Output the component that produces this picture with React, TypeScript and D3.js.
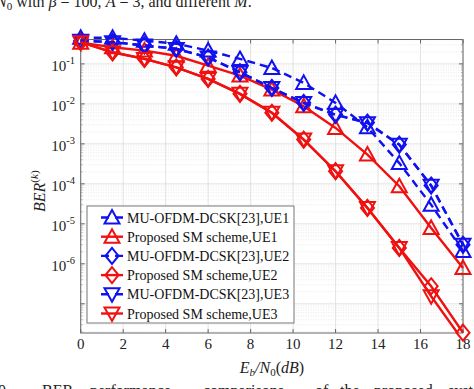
import * as d3 from "d3";

// Eb/N0 (dB)
const snr = [0, 1.5, 3, 4.5, 6, 7.5, 9, 10.5, 12, 13.5, 15, 16.5, 18];

// BER values
const muUE1 = [0.45, 0.45, 0.38, 0.32, 0.215, 0.133, 0.079, 0.0335, 0.0106, 0.0026, 3.3e-4, 3.0e-5, 2.1e-6];
const smUE1 = [0.34, 0.26, 0.215, 0.16, 0.09, 0.051, 0.0228, 0.0087, 0.0025, 5.4e-4, 8.7e-5, 7.9e-6, 7.9e-7];
const muUE2 = [0.38, 0.35, 0.29, 0.24, 0.146, 0.062, 0.025, 0.0106, 0.0054, 0.0034, 9.6e-4, 9.1e-5, 3.0e-6];
const smUE2 = [0.35, 0.195, 0.133, 0.082, 0.042, 0.0178, 0.006, 0.00128, 2.07e-4, 2.5e-5, 2.5e-6, 2.75e-7, 1.9e-8];
const muUE3 = [0.38, 0.35, 0.29, 0.235, 0.145, 0.061, 0.025, 0.0105, 0.0053, 0.0033, 9.5e-4, 9.0e-5, 3.0e-6];
const smUE3 = [0.35, 0.195, 0.133, 0.082, 0.042, 0.0178, 0.006, 0.00128, 2.07e-4, 2.5e-5, 2.5e-6, 1.55e-7, 1.2e-8];

const seriesNames = [
  "MU-OFDM-DCSK[23],UE1",
  "Proposed SM scheme,UE1",
  "MU-OFDM-DCSK[23],UE2",
  "Proposed SM scheme,UE2",
  "MU-OFDM-DCSK[23],UE3",
  "Proposed SM scheme,UE3",
];

const xTicks = [0, 2, 4, 6, 8, 10, 12, 14, 16, 18];
const yTickExps = [-1, -2, -3, -4, -5, -6];
const yGridExps = [-1, -2, -3, -4, -5, -6, -7];

const BLUE = "#1010f0";
const RED = "#f01010";

// marker shapes (size = half width squared*4)
const triUp = {
  draw(ctx: any, size: number) {
    const r = Math.sqrt(size) / 2;
    ctx.moveTo(0, -r);
    ctx.lineTo(r, r * 0.8);
    ctx.lineTo(-r, r * 0.8);
    ctx.closePath();
  },
};
const triDown = {
  draw(ctx: any, size: number) {
    const r = Math.sqrt(size) / 2;
    ctx.moveTo(0, r);
    ctx.lineTo(r, -r * 0.8);
    ctx.lineTo(-r, -r * 0.8);
    ctx.closePath();
  },
};
const diamond = {
  draw(ctx: any, size: number) {
    const r = Math.sqrt(size) / 2;
    ctx.moveTo(0, -r * 1.07);
    ctx.lineTo(r * 0.87, 0);
    ctx.lineTo(0, r * 1.07);
    ctx.lineTo(-r * 0.87, 0);
    ctx.closePath();
  },
};

const series = [
  { name: seriesNames[0], values: muUE1, color: BLUE, dashed: true, shape: triUp },
  { name: seriesNames[1], values: smUE1, color: RED, dashed: false, shape: triUp },
  { name: seriesNames[2], values: muUE2, color: BLUE, dashed: true, shape: diamond },
  { name: seriesNames[3], values: smUE2, color: RED, dashed: false, shape: diamond },
  { name: seriesNames[4], values: muUE3, color: BLUE, dashed: true, shape: triDown },
  { name: seriesNames[5], values: smUE3, color: RED, dashed: false, shape: triDown },
];

const W = 474;
const H = 389;
const left = 80.7;
const right = 463;
const top = 39.5;
const bottom = 333;

const SERIF = "'Liberation Serif', 'Times New Roman', serif";

const App = () => {
  const x = d3.scaleLinear().domain([0, 18]).range([left, right]);
  const y = d3.scaleLog().domain([Math.pow(10, -7.73), Math.pow(10, -0.39)]).range([bottom, top]);
  const [yMin] = y.domain();

  const line = d3
    .line<number>()
    .x((_, i) => x(snr[i]))
    .y((d) => y(d));

  const sym = (shape: any) => d3.symbol().type(shape).size(225)() as string;

  // minor log ticks
  const minor: number[] = [];
  for (let e = -8; e <= 0; e++) {
    for (let j = 2; j <= 9; j++) {
      const v = j * Math.pow(10, e);
      if (v > y.domain()[0] && v < y.domain()[1]) minor.push(v);
    }
  }

  const legendX = 87;
  const legendY = 206;
  const legendW = 207;
  const legendH = 117;
  const rowH = 19.2;

  return (
    <div style={{ position: "absolute", left: 0, top: 0 }}>
      <svg width={W} height={H} style={{ display: "block", background: "#fff" }} fontFamily={SERIF}>
        <defs>
          <clipPath id="plotClip">
            <rect x={0} y={0} width={W} height={bottom} />
          </clipPath>
        </defs>

        {/* caption fragments */}
        <text x={-4} y={7} fontSize={16} fill="#222">
          <tspan fontStyle="italic">N</tspan>
          <tspan fontSize={11} dy={3}>0</tspan>
          <tspan dy={-3}> with </tspan>
          <tspan fontStyle="italic">β</tspan>
          <tspan> = 100, </tspan>
          <tspan fontStyle="italic">A</tspan>
          <tspan> = 3, and different </tspan>
          <tspan fontStyle="italic">M</tspan>
          <tspan>.</tspan>
        </text>
        <text y={396} fontSize={16} fill="#222">
          <tspan x={-2}>0.</tspan>
          <tspan x={42}>BER</tspan>
          <tspan x={90}>performance</tspan>
          <tspan x={203}>comparisons</tspan>
          <tspan x={315}>of</tspan>
          <tspan x={340}>the</tspan>
          <tspan x={374}>proposed</tspan>
          <tspan x={448}>system</tspan>
        </text>

        {/* plot background */}
        <rect x={left} y={top} width={right - left} height={bottom - top} fill="#fff" />

        {/* minor grid */}
        {minor.map((v, i) => (
          <line key={"mg" + i} x1={left} x2={right} y1={y(v)} y2={y(v)} stroke="#d8d8d8" strokeWidth={0.6} strokeDasharray="1,1.5" />
        ))}
        {/* major grid */}
        {yGridExps.map((e) => (
          <line key={"gy" + e} x1={left} x2={right} y1={y(Math.pow(10, e))} y2={y(Math.pow(10, e))} stroke="#dcdcdc" strokeWidth={0.8} />
        ))}
        {xTicks.map((t) => (
          <line key={"gx" + t} x1={x(t)} x2={x(t)} y1={top} y2={bottom} stroke="#dcdcdc" strokeWidth={0.8} />
        ))}

        {/* frame and ticks */}
        <rect x={left} y={top} width={right - left} height={bottom - top} fill="none" stroke="#666" strokeWidth={1} />
        {xTicks.map((t) => (
          <g key={"tx" + t}>
            <line x1={x(t)} x2={x(t)} y1={bottom} y2={bottom - 4} stroke="#666" />
            <line x1={x(t)} x2={x(t)} y1={top} y2={top + 4} stroke="#666" />
            <text x={x(t)} y={348.5} fontSize={15} textAnchor="middle" fill="#222">
              {t}
            </text>
          </g>
        ))}
        {yGridExps.map((e) => (
          <g key={"ty" + e}>
            <line x1={left} x2={left + 4} y1={y(Math.pow(10, e))} y2={y(Math.pow(10, e))} stroke="#666" />
            <line x1={right} x2={right - 4} y1={y(Math.pow(10, e))} y2={y(Math.pow(10, e))} stroke="#666" />
          </g>
        ))}
        {minor.map((v, i) => (
          <g key={"mt" + i}>
            <line x1={left} x2={left + 2} y1={y(v)} y2={y(v)} stroke="#888" strokeWidth={0.6} />
            <line x1={right} x2={right - 2} y1={y(v)} y2={y(v)} stroke="#888" strokeWidth={0.6} />
          </g>
        ))}
        {yTickExps.map((e) => (
          <text key={"yl" + e} x={75} y={y(Math.pow(10, e)) + 7.5} fontSize={15} textAnchor="end" fill="#222">
            10
            <tspan fontSize={10.5} dy={-7}>
              {"-" + Math.abs(e)}
            </tspan>
          </text>
        ))}

        {/* axis titles */}
        <text x={272} y={373} fontSize={16} textAnchor="middle" fill="#222" fontStyle="italic">
          E<tspan fontSize={11} dy={3}>b</tspan>
          <tspan dy={-3}>/N</tspan>
          <tspan fontSize={11} dy={3} fontStyle="normal">0</tspan>
          <tspan dy={-3} fontStyle="normal">(</tspan>
          <tspan>dB</tspan>
          <tspan fontStyle="normal">)</tspan>
        </text>
        <text transform="translate(45,212) rotate(-90)" fontSize={16} fill="#222" fontStyle="italic">
          BER
          <tspan fontSize={11} dy={-7} fontStyle="normal">(</tspan>
          <tspan fontSize={11}>k</tspan>
          <tspan fontSize={11} fontStyle="normal">)</tspan>
        </text>

        {/* series */}
        {series.map((s, si) => (
          <g key={"s" + si}>
            <path
              d={line(s.values) as string}
              fill="none"
              stroke={s.color}
              strokeWidth={2.4}
              strokeDasharray={s.dashed ? "8,5" : undefined}
              clipPath="url(#plotClip)"
            />
            {s.values.map((v, i) =>
              v >= yMin ? (
                <path
                  key={i}
                  d={sym(s.shape)}
                  transform={`translate(${x(snr[i])},${y(v)})`}
                  fill="none"
                  stroke={s.color}
                  strokeWidth={2}
                />
              ) : null
            )}
          </g>
        ))}

        {/* legend */}
        <rect x={legendX} y={legendY} width={legendW} height={legendH} fill="#fff" stroke="#777" strokeWidth={1} />
        {series.map((s, si) => {
          const cy = legendY + 11.5 + si * rowH;
          return (
            <g key={"lg" + si}>
              <line
                x1={101}
                x2={123}
                y1={cy}
                y2={cy}
                stroke={s.color}
                strokeWidth={2.4}
                strokeDasharray={s.dashed ? "8,6" : undefined}
              />
              <path d={sym(s.shape)} transform={`translate(112,${cy})`} fill="none" stroke={s.color} strokeWidth={2} />
              <text x={127} y={cy + 5} fontSize={14} fill="#111">
                {s.name}
              </text>
            </g>
          );
        })}
      </svg>
    </div>
  );
};

export default App;
